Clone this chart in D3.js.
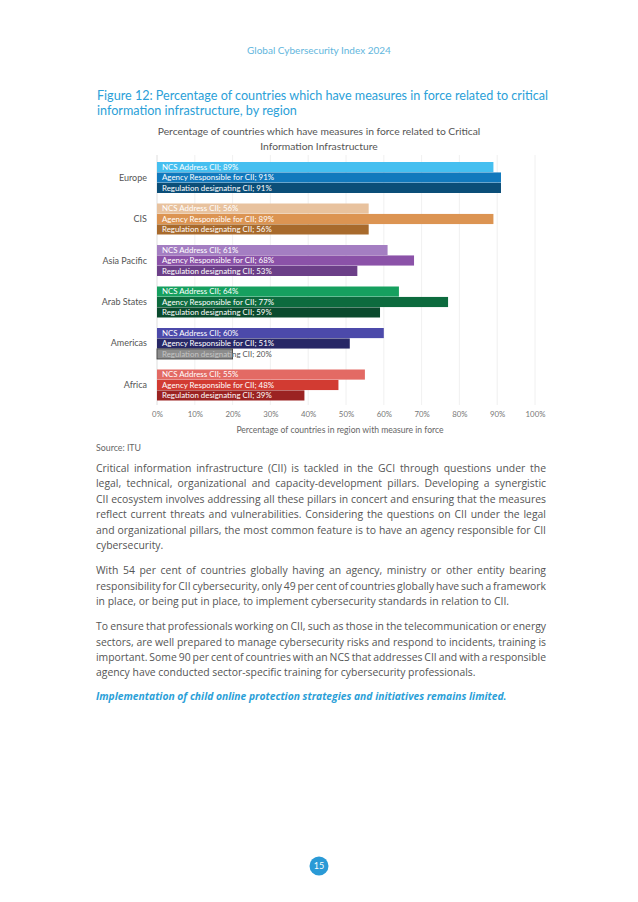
<!DOCTYPE html>
<html>
<head>
<meta charset="utf-8">
<script src="https://cdn.jsdelivr.net/npm/d3@7"></script>
<style>
html,body{margin:0;padding:0;background:#fff;}
svg{display:block;}
</style>
</head>
<body>
<svg id="page" width="638" height="902"></svg>
<script>
// ---------- data ----------
const regions = ["Europe", "CIS", "Asia Pacific", "Arab States", "Americas", "Africa"];
const seriesNames = ["NCS Address CII", "Agency Responsible for CII", "Regulation designating CII"];
const ncsValues = [89, 56, 61, 64, 60, 55];
const agencyValues = [91, 89, 68, 77, 51, 48];
const regulationValues = [91, 56, 53, 59, 20, 39];
const xTicks = [0, 10, 20, 30, 40, 50, 60, 70, 80, 90, 100];
const regionColors = [
  ["#45bff0", "#1179bd", "#0b4e78"],
  ["#e8c29e", "#dc9452", "#a86a2c"],
  ["#a47ec2", "#8b52a8", "#6c3f88"],
  ["#16a05f", "#0d6b3e", "#0a4a2d"],
  ["#4c4aaa", "#272766", "#8c8c8c"],
  ["#e36a64", "#d23b32", "#9b2322"]
];
const headerText = "Global Cybersecurity Index 2024";
const figureTitle = ["Figure 12: Percentage of countries which have measures in force related to critical",
                     "information infrastructure, by region"];
const chartTitle = ["Percentage of countries which have measures in force related to Critical",
                    "Information Infrastructure"];
const xAxisTitle = "Percentage of countries in region with measure in force";
const sourceText = "Source: ITU";
const paragraphs = [
  ["Critical information infrastructure (CII) is tackled in the GCI through questions under the",
   "legal, technical, organizational and capacity-development pillars. Developing a synergistic",
   "CII ecosystem involves addressing all these pillars in concert and ensuring that the measures",
   "reflect current threats and vulnerabilities. Considering the questions on CII under the legal",
   "and organizational pillars, the most common feature is to have an agency responsible for CII",
   "cybersecurity."],
  ["With 54 per cent of countries globally having an agency, ministry or other entity bearing",
   "responsibility for CII cybersecurity, only 49 per cent of countries globally have such a framework",
   "in place, or being put in place, to implement cybersecurity standards in relation to CII."],
  ["To ensure that professionals working on CII, such as those in the telecommunication or energy",
   "sectors, are well prepared to manage cybersecurity risks and respond to incidents, training is",
   "important. Some 90 per cent of countries with an NCS that addresses CII and with a responsible",
   "agency have conducted sector-specific training for cybersecurity professionals."]
];
const highlightText = "Implementation of child online protection strategies and initiatives remains limited.";
const pageNumber = "15";

// ---------- drawing ----------
const FONT = "Lato, 'Open Sans', sans-serif";
const BODYFONT = "'Open Sans', Lato, sans-serif";
const svg = d3.select("#page");
const blue = "#2b9fd8";

svg.append("text").attr("x", 319).attr("y", 54).attr("text-anchor", "middle")
  .attr("font-family", FONT).attr("font-size", 10).attr("fill", "#62b6dd").text(headerText);

figureTitle.forEach((t, i) => {
  svg.append("text").attr("x", 97).attr("y", 100 + i * 14.5)
    .attr("font-family", FONT).attr("font-size", 12.6).attr("fill", blue).text(t);
});

chartTitle.forEach((t, i) => {
  svg.append("text").attr("x", 319).attr("y", 134.5 + i * 15.5).attr("text-anchor", "middle")
    .attr("font-family", FONT).attr("font-size", 10.3).attr("fill", "#555").text(t);
});

// chart
const x = d3.scaleLinear().domain([0, 100]).range([157, 535]);
const y = d3.scaleBand().domain(regions).range([162, 400.5]).paddingInner(0.253).paddingOuter(0);
const ySub = d3.scaleBand().domain(seriesNames).range([0, y.bandwidth()]).paddingInner(0.03);

const seriesValues = [ncsValues, agencyValues, regulationValues];
const bars = [];
regions.forEach((r, ri) => {
  seriesNames.forEach((s, si) => {
    bars.push({region: r, series: s, value: seriesValues[si][ri], color: regionColors[ri][si], ri, si});
  });
});

const chart = svg.append("g");
// grid
chart.append("g").selectAll("line").data(xTicks).join("line")
  .attr("x1", d => x(d)).attr("x2", d => x(d))
  .attr("y1", 155).attr("y2", 405)
  .attr("stroke", d => d === 0 ? "#d6d6d6" : "#ececec").attr("stroke-width", 0.8);

// axis tick labels
const axis = d3.axisBottom(x).tickValues(xTicks).tickFormat(d => d + "%").tickSize(0).tickPadding(0);
const axG = chart.append("g").attr("transform", "translate(0,411)").call(axis);
axG.select(".domain").remove();
axG.selectAll("text").attr("font-family", FONT).attr("font-size", 7.8).attr("fill", "#777");

chart.append("text").attr("x", 340).attr("y", 433).attr("text-anchor", "middle")
  .attr("font-family", FONT).attr("font-size", 8.6).attr("fill", "#666").text(xAxisTitle);

// category labels
chart.append("g").selectAll("text").data(regions).join("text")
  .attr("x", 147).attr("y", d => y(d) + y.bandwidth() / 2 + 3)
  .attr("text-anchor", "end").attr("font-family", FONT).attr("font-size", 9).attr("fill", "#555")
  .text(d => d);

const defs = svg.append("defs");
const barG = chart.append("g");
const LBL = 7.9;
bars.forEach((b, i) => {
  const by = y(b.region) + ySub(b.series);
  const bh = ySub.bandwidth();
  const bx = x(0), bw = x(b.value) - x(0);
  barG.append("rect").attr("x", bx).attr("y", by).attr("width", bw).attr("height", bh)
    .attr("fill", b.color)
    .attr("stroke", b.color === "#8c8c8c" ? "#3a3a3a" : "none").attr("stroke-width", 0.8);
  const label = b.series + "; " + b.value + "%";
  const t = barG.append("text").attr("x", bx + 5).attr("y", by + bh / 2 + 2.8)
    .attr("font-family", FONT).attr("font-size", LBL).attr("fill", "#fff").text(label);
  const tw = t.node().getComputedTextLength();
  if (tw + 5 > bw) {
    // label overflows: split colouring inside/outside the bar
    const cin = "clipIn" + i, cout = "clipOut" + i;
    defs.append("clipPath").attr("id", cin).append("rect")
      .attr("x", bx).attr("y", by - 2).attr("width", bw).attr("height", bh + 4);
    defs.append("clipPath").attr("id", cout).append("rect")
      .attr("x", bx + bw).attr("y", by - 2).attr("width", 400).attr("height", bh + 4);
    t.attr("fill", "#c4c4c4").attr("clip-path", "url(#" + cin + ")");
    barG.append("text").attr("x", bx + 5).attr("y", by + bh / 2 + 2.8)
      .attr("font-family", FONT).attr("font-size", LBL).attr("fill", "#555")
      .attr("clip-path", "url(#" + cout + ")").text(label);
  }
});

svg.append("text").attr("x", 96).attr("y", 451)
  .attr("font-family", FONT).attr("font-size", 8.8).attr("fill", "#666").text(sourceText);

// body text, justified
const bodyLeft = 96, bodyRight = 546, bodySize = 10.4, lh = 15.4;
let yy = 472;
paragraphs.forEach((p, pi) => {
  p.forEach((line, li) => {
    const t = svg.append("text").attr("x", bodyLeft).attr("y", yy)
      .attr("font-family", BODYFONT).attr("font-size", bodySize).attr("fill", "#555").text(line);
    if (li < p.length - 1) {
      const w = t.node().getComputedTextLength();
      const spaces = (line.match(/ /g) || []).length;
      if (spaces > 0) t.attr("word-spacing", (bodyRight - bodyLeft - w) / spaces);
    }
    yy += lh;
  });
  yy += 9.8;
});

svg.append("text").attr("x", bodyLeft).attr("y", yy - 1.5)
  .attr("font-family", BODYFONT).attr("font-size", 10.3).attr("font-weight", "bold")
  .attr("font-style", "italic").attr("fill", blue).text(highlightText);

svg.append("circle").attr("cx", 319).attr("cy", 866).attr("r", 9.5).attr("fill", "#2a9ad6");
svg.append("text").attr("x", 319).attr("y", 869.3).attr("text-anchor", "middle")
  .attr("font-family", FONT).attr("font-size", 9).attr("fill", "#fff").text(pageNumber);
</script>
</body>
</html>
